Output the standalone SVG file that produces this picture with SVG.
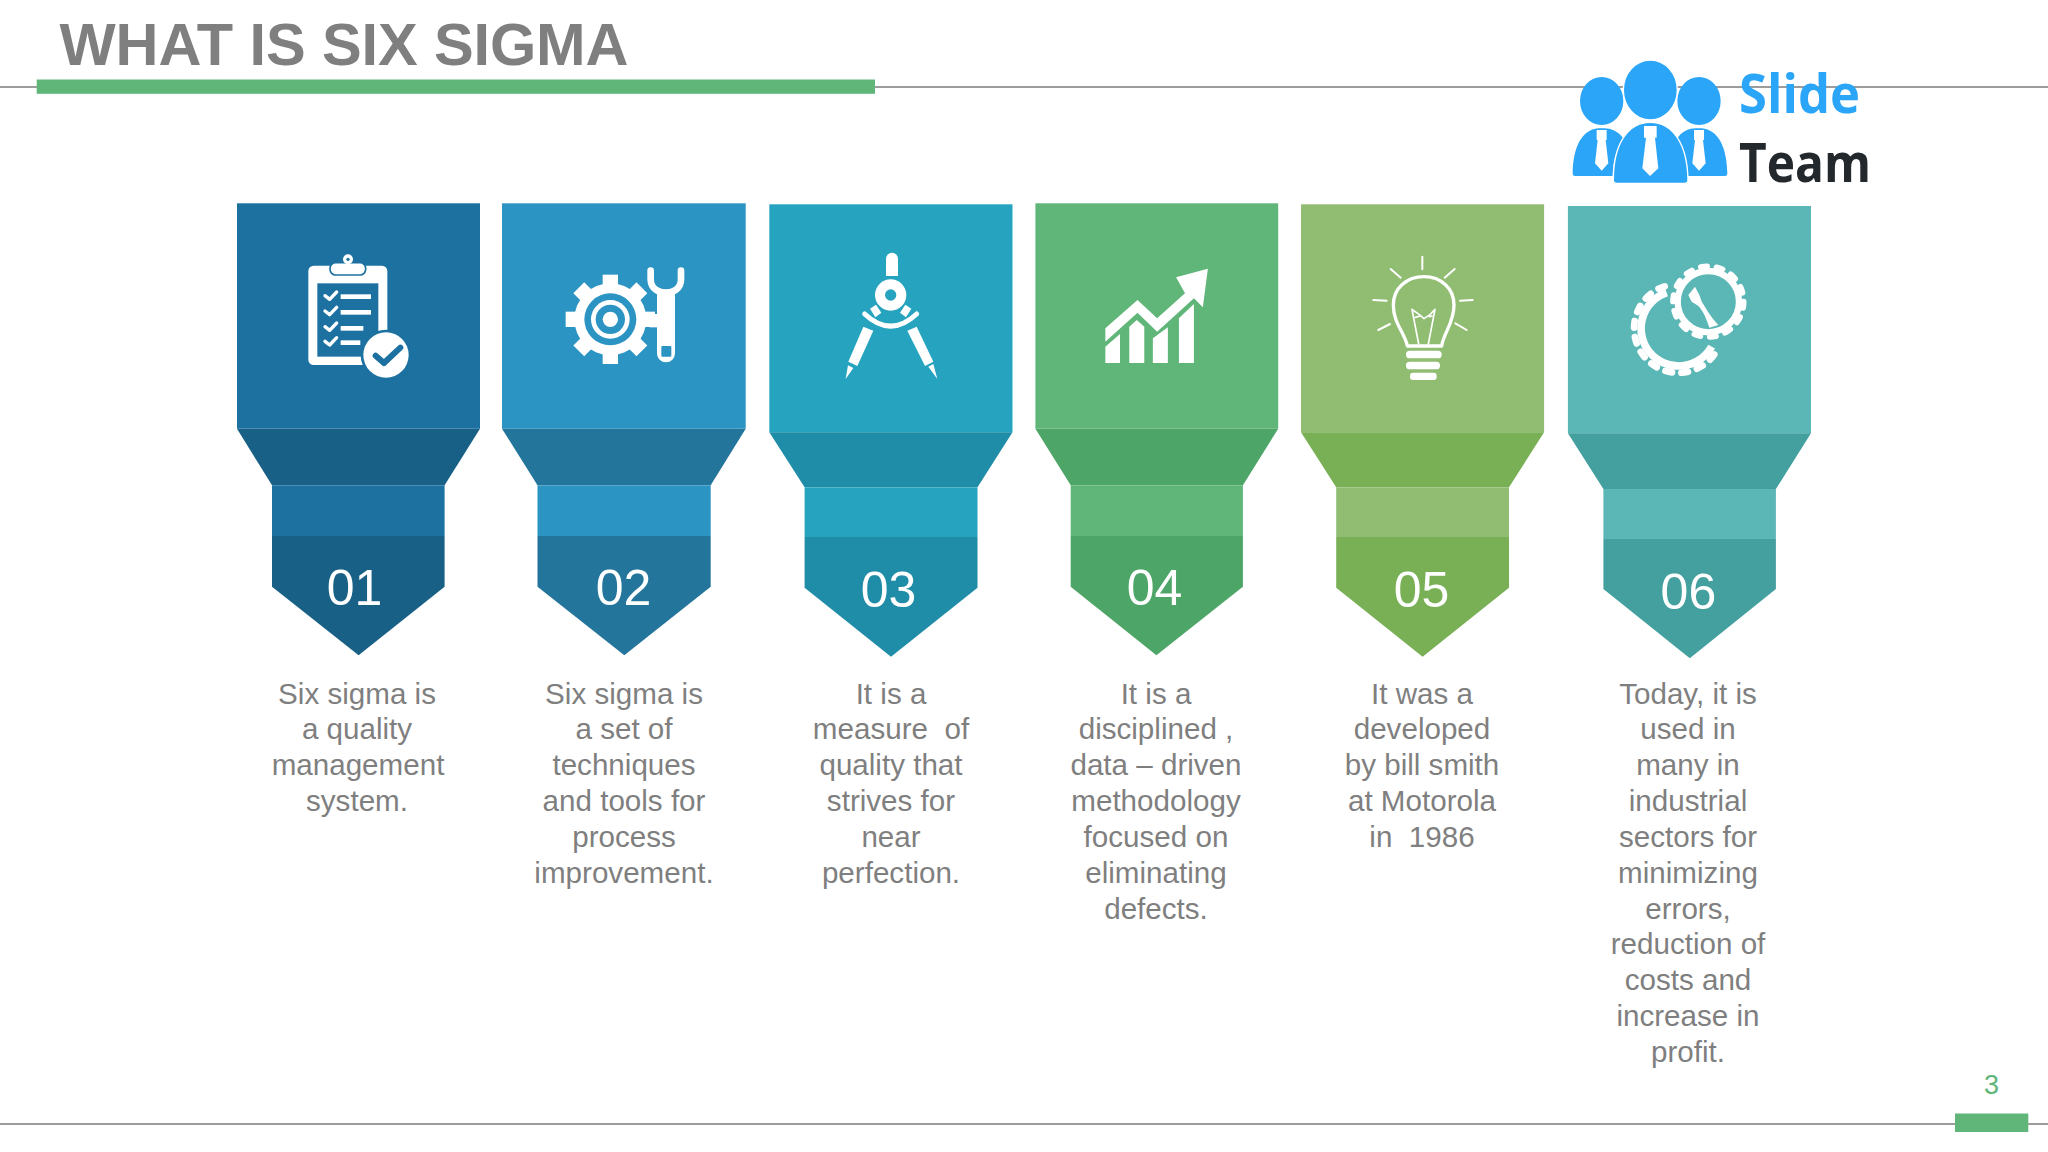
<svg xmlns="http://www.w3.org/2000/svg" width="2048" height="1152" viewBox="0 0 2048 1152">
<style>
text{font-family:"Liberation Sans",Arial,sans-serif}
.rule{stroke:#9c9c9c;stroke-width:1.8;fill:none}
.bar{fill:#60b679}
.title{font-size:59.5px;font-weight:700;fill:#7f7f7f}
.num{font-size:50px;fill:#fff;text-anchor:middle}
.body{font-size:29.6px;fill:#7f7f7f;text-anchor:middle}
.pg{font-size:27px;fill:#60b679;text-anchor:middle}
.w{fill:#fff}
.ws{fill:none;stroke:#fff;stroke-linecap:round;stroke-linejoin:round}
.logo{fill:#2aa5f7}
.brand{font-family:"Open Sans","Noto Sans",sans-serif;font-size:54px;font-weight:700}
.c1{fill:#1c71a1}.d1{fill:#196086}
.c2{fill:#2c94c3}.d2{fill:#24759b}
.c3{fill:#26a4bf}.d3{fill:#1f8ca8}
.c4{fill:#60b679}.d4{fill:#4da567}
.c5{fill:#90bd72}.d5{fill:#79b055}
.c6{fill:#5bb7b5}.d6{fill:#43a09f}
</style>
<rect width="2048" height="1152" fill="#fff"/>
<g id="frame">
<line class="rule" x1="0" y1="87" x2="2048" y2="87"/>
<line class="rule" x1="0" y1="1124" x2="2048" y2="1124"/>
<rect class="bar" x="36.7" y="79.5" width="838.3" height="14.3"/>
<rect class="bar" x="1955" y="1113.5" width="73.3" height="18.5"/>
</g>
<text id="title" class="title" x="59.5" y="65.3" textLength="569">WHAT IS SIX SIGMA</text>
<text id="page" class="pg" x="1991.5" y="1094">3</text>

<g id="logo">
<g transform="translate(1540,40) scale(.33333)">
<ellipse class="logo" cx="185" cy="183" rx="65" ry="72"/>
<ellipse class="logo" cx="477" cy="183" rx="65" ry="72"/>
<path class="logo" d="M98 400C100 320 125 270 175 265H192C215 265 235 275 250 295C228 330 220 360 218 408H105Q98 408 98 400Z"/>
<path class="logo" d="M562 400C560 320 535 270 485 265H468C445 265 425 275 412 295C434 330 442 360 444 408H555Q562 408 562 400Z"/>
<ellipse class="logo" cx="331" cy="150" rx="81" ry="90" stroke="#fff" stroke-width="4"/>
<path class="logo" stroke="#fff" stroke-width="4" d="M220 420C220 310 265 247 331 247C397 247 442 310 444 420Q444 430 434 430H230Q220 430 220 420Z"/>
<path class="w" d="M312 258H350V293H345L355 385L330 408L307 385L318 293H312Z"/>
<path class="w" d="M170 270H200V300H197L205 370L185 392L165 370L173 300H170Z"/>
<path class="w" d="M462 270H492V300H489L497 370L477 392L457 370L465 300H462Z"/>
</g>
<text class="brand" x="1739" y="112.7" fill="#2aa5f7" textLength="121" lengthAdjust="spacingAndGlyphs">Slide</text>
<text class="brand" x="1739" y="181.7" fill="#23282d" font-size="56" textLength="132" lengthAdjust="spacingAndGlyphs">Team</text>
</g>

<g id="node-01">
<rect class="c1" x="237" y="203.3" width="243" height="225.4"/>
<path class="d1" d="M237 428.7H480L444.6 485.3H272Z"/>
<rect class="c1" x="272" y="485.3" width="172.6" height="50.7"/>
<path class="d1" d="M272 536H444.6V586.7L358.6 655.3L272 586.7Z"/>
<g transform="translate(280,240) scale(.33333)">
<rect class="w" x="85" y="77" width="237" height="298" rx="16"/>
<rect class="c1" x="112" y="130" width="183" height="220"/>
<circle class="c1" cx="318" cy="345" r="76"/>
<rect class="w" x="150" y="68" width="107" height="37" rx="17" stroke="#1c71a1" stroke-width="5"/>
<circle class="w" cx="204" cy="58" r="15"/><circle class="c1" cx="204" cy="58" r="5"/>
<rect class="w" x="182" y="163" width="91" height="14"/>
<rect class="w" x="182" y="210" width="91" height="14"/>
<rect class="w" x="182" y="258" width="68" height="14"/>
<rect class="w" x="182" y="301" width="59" height="14"/>
<g class="ws" stroke-width="10">
<path d="M135 167L149 178L170 156"/><path d="M135 213L149 224L170 202"/><path d="M135 260L149 271L170 249"/><path d="M135 304L149 315L170 293"/>
</g>
<circle class="w" cx="318" cy="345" r="68"/>
<path d="M287 347L312 369L361 323" fill="none" stroke="#1c71a1" stroke-width="18" stroke-linejoin="round" stroke-linecap="round"/>
</g>
<text class="num" x="354.5" y="604.5">01</text>
<text class="body" y="703.5"><tspan x="357">Six sigma is</tspan><tspan x="357" dy="35.85">a quality</tspan><tspan x="358" dy="35.85">management</tspan><tspan x="357" dy="35.85">system.</tspan></text>
</g>

<g id="node-02">
<rect class="c2" x="502" y="203.3" width="243.7" height="225.4"/>
<path class="d2" d="M502 428.7H745.7L710.7 485.3H537.5Z"/>
<rect class="c2" x="537.5" y="485.3" width="173.2" height="50.7"/>
<path class="d2" d="M537.5 536H710.7V586.7L624.3 655.3L537.5 586.7Z"/>
<g transform="translate(551,240) scale(.33333)">
<circle cx="178" cy="238" r="108" class="w"/>
<g class="w">
<rect x="155" y="104" width="46" height="268"/>
<rect x="44" y="215" width="268" height="46"/>
<rect x="155" y="104" width="46" height="268" transform="rotate(45 178 238)"/>
<rect x="155" y="104" width="46" height="268" transform="rotate(-45 178 238)"/>
</g>
<circle cx="178" cy="238" r="78" class="c2"/><circle cx="178" cy="238" r="58" class="w"/><circle cx="178" cy="238" r="44" class="c2"/><circle cx="178" cy="238" r="23" class="w"/>
<rect class="w" x="296" y="222" width="30" height="40"/>
<path class="ws" stroke-width="20" d="M299 92V118C299 148 325 158 345 158C365 158 390 148 390 118V92"/>
<path class="w" d="M318 155H372V340A27 27 0 0 1 318 340Z"/>
<rect class="c2" x="331" y="318" width="30" height="32" rx="3"/>
</g>
<text class="num" x="623.6" y="604.5">02</text>
<text class="body" y="703.5"><tspan x="624">Six sigma is</tspan><tspan x="624" dy="35.85">a set of</tspan><tspan x="624" dy="35.85">techniques</tspan><tspan x="624" dy="35.85">and tools for</tspan><tspan x="624" dy="35.85">process</tspan><tspan x="624" dy="35.85">improvement.</tspan></text>
</g>

<g id="node-03">
<rect class="c3" x="769.3" y="204.3" width="243.2" height="228"/>
<path class="d3" d="M769.3 432.3H1012.5L977.5 487.3H804.6Z"/>
<rect class="c3" x="804.6" y="487.3" width="172.9" height="49.7"/>
<path class="d3" d="M804.6 537H977.5V587.7L891 656.7L804.6 587.7Z"/>
<g transform="translate(820,240) scale(.33333)">
<path class="w" d="M198 108V56A18 18 0 0 1 234 56V108Z"/>
<circle cx="212" cy="165" r="47" class="w"/><circle cx="212" cy="165" r="17" class="c3"/>
<path class="w" d="M150 206L168 194L184 218L166 232Z"/><path class="w" d="M240 218L256 194L274 206L258 232Z"/>
<path d="M134 222Q212 295 290 222" fill="none" stroke="#fff" stroke-width="15" stroke-linecap="round"/>
<path class="w" d="M130 260L160 272L112 378L85 365Z"/><path class="w" d="M84 376L100 384L77 417Z"/>
<path class="w" d="M262 272L290 260L340 365L315 378Z"/><path class="w" d="M325 380L340 372L352 417Z"/>
</g>
<text class="num" x="888.6" y="606.5">03</text>
<text class="body" y="703.5" xml:space="preserve"><tspan x="891">It is a</tspan><tspan x="891" dy="35.85">measure  of</tspan><tspan x="891" dy="35.85">quality that</tspan><tspan x="891" dy="35.85">strives for</tspan><tspan x="891" dy="35.85">near</tspan><tspan x="891" dy="35.85">perfection.</tspan></text>
</g>

<g id="node-04">
<rect class="c4" x="1035.4" y="203.3" width="242.8" height="225.4"/>
<path class="d4" d="M1035.4 428.7H1278.2L1242.9 485.3H1070.7Z"/>
<rect class="c4" x="1070.7" y="485.3" width="172.2" height="50.7"/>
<path class="d4" d="M1070.7 536H1242.9V586.7L1156.4 655.3L1070.7 586.7Z"/>
<g transform="translate(760,190) scale(.35714,.33333)">
<path class="w" d="M967 519V470L1008 432V519Z"/>
<path class="w" d="M1034 519V410L1055 390L1076 410V519Z"/>
<path class="w" d="M1100 519V445L1142 412V519Z"/>
<path class="w" d="M1173 519V385L1215 342V519Z"/>
<path class="w" d="M967 415L1057 330L1112 385L1190 310L1165 262L1254 236L1240 352L1215 325L1112 425L1057 368L967 455Z"/>
</g>
<text class="num" x="1154.6" y="605.2">04</text>
<text class="body" y="703.5"><tspan x="1156">It is a</tspan><tspan x="1156" dy="35.85">disciplined ,</tspan><tspan x="1156" dy="35.85">data – driven</tspan><tspan x="1156" dy="35.85">methodology</tspan><tspan x="1156" dy="35.85">focused on</tspan><tspan x="1156" dy="35.85">eliminating</tspan><tspan x="1156" dy="35.85">defects.</tspan></text>
</g>

<g id="node-05">
<rect class="c5" x="1301" y="204.3" width="243.1" height="228"/>
<path class="d5" d="M1301 432.3H1544.1L1509 487.3H1336.2Z"/>
<rect class="c5" x="1336.2" y="487.3" width="172.8" height="49.7"/>
<path class="d5" d="M1336.2 537H1509V587.7L1422.6 656.7L1336.2 587.7Z"/>
<g transform="translate(1350,240) scale(.33333)">
<path class="ws" stroke-width="10" d="M172 318C165 280 130 250 130 195C130 145 170 110 222 110C272 110 312 145 312 195C312 250 280 280 275 318Z"/>
<path class="ws" stroke-width="5" d="M206 312L186 208L208 224L222 236L240 224L255 208L235 312M196 232L210 228M246 228L238 230"/>
<rect class="w" x="168" y="332" width="107" height="23" rx="11"/>
<rect class="w" x="168" y="365" width="102" height="23" rx="11"/>
<rect class="w" x="180" y="398" width="80" height="22" rx="9"/>
<path class="ws" stroke-width="6" d="M217 50V88M122 87L152 113M314 87L284 113M70 180L110 182M330 182L368 180M85 270L120 252M350 270L316 250"/>
</g>
<text class="num" x="1421.5" y="606.5">05</text>
<text class="body" y="703.5" xml:space="preserve"><tspan x="1422">It was a</tspan><tspan x="1422" dy="35.85">developed</tspan><tspan x="1422" dy="35.85">by bill smith</tspan><tspan x="1422" dy="35.85">at Motorola</tspan><tspan x="1422" dy="35.85">in  1986</tspan></text>
</g>

<g id="node-06">
<rect class="c6" x="1567.9" y="206" width="243.1" height="227.3"/>
<path class="d6" d="M1567.9 433.3H1811L1775.9 489H1603.4Z"/>
<rect class="c6" x="1603.4" y="489" width="172.5" height="50"/>
<path class="d6" d="M1603.4 539H1775.9V589L1689.8 658.3L1603.4 589Z"/>
<g transform="translate(1610,245) scale(.33333)">
<path class="ws" stroke-width="23" d="M170 143A113 113 0 1 0 305 305" style="stroke-linecap:butt"/>
<path class="ws" stroke-width="20" stroke-dasharray="20 28" d="M164 124A133 133 0 1 0 322 314"/>
<circle cx="295" cy="170" r="92" fill="none" stroke="#fff" stroke-width="19"/>
<circle class="ws" cx="295" cy="170" r="106" stroke-width="17" stroke-dasharray="19 28.6"/>
<path class="w" d="M235 150L255 125L268 150L276 172C290 192 300 215 325 240L298 248C290 222 280 198 264 182L245 170Z"/>
</g>
<text class="num" x="1688.4" y="608.5">06</text>
<text class="body" y="703.5"><tspan x="1688">Today, it is</tspan><tspan x="1688" dy="35.85">used in</tspan><tspan x="1688" dy="35.85">many in</tspan><tspan x="1688" dy="35.85">industrial</tspan><tspan x="1688" dy="35.85">sectors for</tspan><tspan x="1688" dy="35.85">minimizing</tspan><tspan x="1688" dy="35.85">errors,</tspan><tspan x="1688" dy="35.85">reduction of</tspan><tspan x="1688" dy="35.85">costs and</tspan><tspan x="1688" dy="35.85">increase in</tspan><tspan x="1688" dy="35.85">profit.</tspan></text>
</g>
</svg>
